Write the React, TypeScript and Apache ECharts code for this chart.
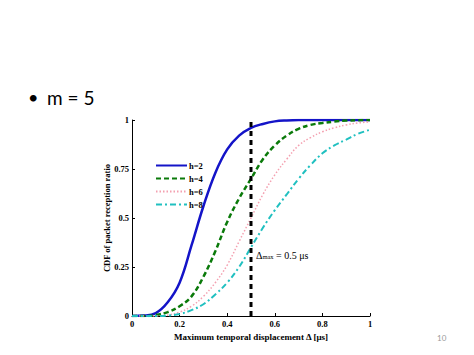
import React, { useEffect, useRef } from "react";
import * as echarts from "echarts";

const xs = [0, 0.05, 0.1, 0.15, 0.2, 0.25, 0.3, 0.35, 0.4, 0.45, 0.5, 0.55, 0.6, 0.65, 0.7, 0.75, 0.8, 0.85, 0.9, 0.95, 1];
const h2 = [0, 0.002, 0.015, 0.07, 0.17, 0.36, 0.56, 0.73, 0.85, 0.92, 0.96, 0.98, 0.993, 0.998, 1, 1, 1, 1, 1, 1, 1];
const h4 = [0, 0, 0.005, 0.02, 0.05, 0.1, 0.2, 0.33, 0.48, 0.6, 0.7, 0.8, 0.87, 0.92, 0.955, 0.975, 0.985, 0.992, 0.997, 0.999, 1];
const h6 = [0, 0, 0, 0.005, 0.02, 0.05, 0.1, 0.17, 0.26, 0.38, 0.5, 0.62, 0.72, 0.8, 0.87, 0.91, 0.94, 0.96, 0.975, 0.985, 0.99];
const h8 = [0, 0, 0, 0.002, 0.01, 0.03, 0.06, 0.11, 0.17, 0.25, 0.35, 0.45, 0.54, 0.62, 0.7, 0.77, 0.83, 0.87, 0.9, 0.93, 0.95];
const seriesNames = ["h=2", "h=4", "h=6", "h=8"];
const deltaMax = 0.5;
const xTicks = { min: 0, max: 1, interval: 0.2 };
const yTicks = { min: 0, max: 1, interval: 0.25 };

const pairs = (ys: number[]) => xs.map((x, i) => [x, ys[i]]);

export default function App() {
  const ref = useRef<HTMLDivElement>(null);
  useEffect(() => {
    const chart = echarts.init(ref.current!, null, { renderer: "svg" });
    const serif = "Liberation Serif";
    const lbl = { fontFamily: serif, fontWeight: "bold" as const, fontSize: 8.5, color: "#000" };
    chart.setOption({
      animation: false,
      backgroundColor: "#fff",
      grid: { left: 132, right: 104, top: 120, bottom: 39 },
      legend: {
        data: seriesNames,
        orient: "vertical",
        left: 150,
        top: 156,
        itemWidth: 31,
        itemHeight: 8,
        itemGap: 4,
        itemStyle: { opacity: 0 },
        textStyle: { fontFamily: serif, fontWeight: "bold", fontSize: 8.5, color: "#000", padding: [0, 0, 0, -3] },
      },
      xAxis: {
        type: "value",
        ...xTicks,
        name: "Maximum temporal displacement \u0394 [\u03bcs]",
        nameLocation: "middle",
        nameGap: 14,
        nameTextStyle: { fontFamily: serif, fontWeight: "bold", fontSize: 9, color: "#000" },
        axisLine: { lineStyle: { color: "#000", width: 1 } },
        axisTick: { inside: true, length: 3, lineStyle: { color: "#000" } },
        axisLabel: { ...lbl, margin: 3 },
        splitLine: { show: false },
      },
      yAxis: {
        type: "value",
        ...yTicks,
        name: "CDF of packet reception ratio",
        nameLocation: "middle",
        nameGap: 21,
        nameMoveOverlap: false,
        nameTextStyle: { fontFamily: serif, fontWeight: "bold", fontSize: 8.5, color: "#000" },
        axisLine: { show: true, lineStyle: { color: "#000", width: 1 } },
        axisTick: { show: true, inside: true, length: 3, lineStyle: { color: "#000" } },
        axisLabel: { ...lbl, margin: 3 },
        splitLine: { show: false },
      },
      series: [
        { name: "h=2", type: "line", data: pairs(h2), smooth: 0.4, symbol: "none", color: "#1414c8", lineStyle: { width: 2.5, color: "#1414c8" } },
        { name: "h=4", type: "line", data: pairs(h4), smooth: 0.4, symbol: "none", color: "#0a7a0a", lineStyle: { width: 2.5, color: "#0a7a0a", type: [5, 3] } },
        { name: "h=6", type: "line", data: pairs(h6), smooth: 0.4, symbol: "none", color: "#f4a0b0", lineStyle: { width: 1.5, color: "#f4a0b0", type: [1.5, 2] } },
        { name: "h=8", type: "line", data: pairs(h8), smooth: 0.4, symbol: "none", color: "#20c0c0", lineStyle: { width: 2, color: "#20c0c0", type: [6, 3, 2, 3] } },
        {
          name: "dmax",
          type: "line",
          data: [[deltaMax, 0], [deltaMax, 1]],
          symbol: "none",
          lineStyle: { width: 3, color: "#000", type: [5, 4] },
          z: 5,
        },
      ],
      graphic: [
        { type: "text", left: 28, top: 88, style: { text: "\u2022", font: "18px Lato", fill: "#000" } },
        { type: "text", left: 47, top: 88, style: { text: "m = 5", font: "19px Lato", fill: "#000" } },
        {
          type: "text",
          left: 256,
          top: 250,
          style: {
            text: "{a|\u0394}{s|max}{a| = 0.5 \u03bcs}",
            rich: {
              a: { fontFamily: serif, fontSize: 10, fill: "#000", verticalAlign: "bottom" },
              s: { fontFamily: serif, fontSize: 6.5, fill: "#000", padding: [6, 0, 0, 0] },
            },
          },
        },
        { type: "text", left: 437, top: 334, style: { text: "10", font: "8px Lato", fill: "#999" } },
      ],
    });
    return () => chart.dispose();
  }, []);
  return <div ref={ref} style={{ position: "fixed", left: 0, top: 0, width: 474, height: 355 }} />;
}
